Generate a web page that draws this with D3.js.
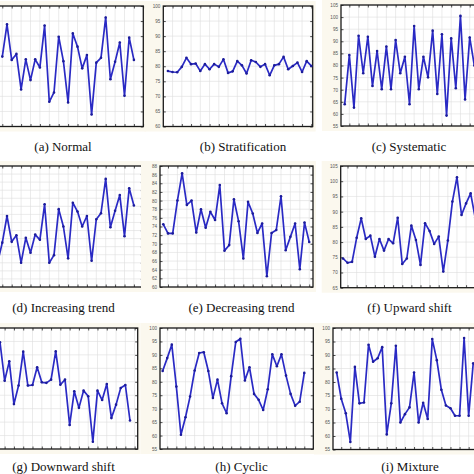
<!DOCTYPE html>
<html>
<head>
<meta charset="utf-8">
<script src="https://cdn.jsdelivr.net/npm/d3@7"></script>
<style>
  html, body { margin: 0; padding: 0; background: #fff; }
  svg { display: block; }
</style>
</head>
<body>
<div id="chart"></div>
<script>
// values, one array per panel
const normalValues = [83.2, 93.9, 82.1, 84.1, 72.3, 82.3, 75.4, 82.3, 79.6, 93.5, 68.2, 71.3, 89.8, 81.7, 68.0,
    90.9, 86.5, 79.3, 83.7, 64.0, 81.2, 82.8, 96.2, 75.7, 81.5, 87.9, 70.2, 89.5, 82.1];
const stratificationValues = [78.4, 78.1, 78.0, 79.8, 82.8, 80.7, 80.9, 78.4, 80.7, 79.0, 80.7, 79.8, 82.3, 77.8,
    78.3, 81.7, 80.3, 77.6, 82.0, 81.4, 79.8, 80.7, 77.0, 80.3, 80.7, 83.1, 79.0, 80.1, 81.2, 78.1, 81.7, 80.1];
const systematicValues = [64.0, 84.3, 62.6, 92.3, 76.8, 91.9, 71.5, 86.0, 70.2, 87.8, 70.2, 90.5, 76.8, 83.6,
    64.0, 96.3, 70.2, 83.6, 75.1, 94.4, 68.2, 92.9, 59.3, 91.2, 70.6, 100.5, 66.0, 91.6, 80.0];
const increasingValues = [66.1, 71.0, 77.6, 71.2, 72.8, 66.0, 72.2, 68.5, 73.0, 71.7, 80.5, 66.0, 67.9, 79.3, 75.0,
    67.1, 80.9, 78.7, 75.0, 77.6, 66.5, 76.8, 78.3, 86.8, 74.8, 78.9, 82.8, 72.6, 84.5, 80.2];
const decreasingValues = [74.5, 72.4, 72.4, 80.0, 86.3, 79.0, 80.0, 72.6, 78.0, 73.7, 77.4, 75.5, 83.6, 68.4, 69.7,
    80.3, 75.2, 66.6, 79.7, 77.0, 72.5, 74.7, 62.5, 72.5, 73.2, 81.0, 68.5, 71.6, 74.7, 64.1, 74.9, 70.4];
const upwardValues = [74.6, 73.2, 73.5, 81.4, 87.8, 81.0, 82.1, 75.2, 81.0, 77.2, 81.0, 79.6, 88.0, 72.8, 74.6,
    85.4, 80.7, 72.5, 86.2, 83.6, 79.4, 81.8, 70.3, 80.5, 93.3, 101.3, 88.9, 92.7, 96.0, 88.0];
const downwardValues = [94.7, 80.4, 87.6, 71.7, 78.6, 91.2, 78.6, 78.8, 85.4, 79.8, 79.6, 80.8, 91.3, 78.9, 80.8,
    63.9, 76.5, 70.3, 76.7, 74.6, 57.7, 76.7, 73.2, 79.2, 66.5, 71.5, 77.7, 78.8, 65.6];
const cyclicValues = [84.0, 88.8, 93.8, 78.2, 60.3, 66.8, 74.5, 84.2, 90.7, 91.0, 84.0, 74.0, 80.8, 72.0, 68.3,
    82.1, 94.8, 96.0, 80.5, 85.4, 75.5, 73.3, 69.5, 77.2, 90.2, 85.8, 90.2, 82.3, 75.5, 71.1, 72.6, 83.3];
const mixtureValues = [83.5, 73.8, 68.4, 57.8, 85.6, 72.1, 72.4, 93.8, 87.5, 88.8, 92.9, 60.6, 72.1, 93.4, 65.0,
    68.1, 70.6, 83.5, 65.0, 72.3, 66.3, 95.9, 88.1, 77.1, 71.3, 70.3, 67.5, 67.5, 96.3, 67.5, 86.9];

const ticks60to100 = [60, 65, 70, 75, 80, 85, 90, 95, 100];
const ticks55to105 = [55, 60, 65, 70, 75, 80, 85, 90, 95, 100, 105];
const ticks60to90 = [60, 62, 64, 66, 68, 70, 72, 74, 76, 78, 80, 82, 84, 86, 88, 90];
const ticks60to88 = [60, 62, 64, 66, 68, 70, 72, 74, 76, 78, 80, 82, 84, 86, 88];
const ticks65to105 = [65, 70, 75, 80, 85, 90, 95, 100, 105];
const ticks55to100 = [55, 60, 65, 70, 75, 80, 85, 90, 95, 100];

const captions = ['(a) Normal', '(b) Stratification', '(c) Systematic',
    '(d) Increasing trend', '(e) Decreasing trend', '(f) Upward shift',
    '(g) Downward shift', '(h) Cyclic', '(i) Mixture'];

// layout: box = [left, right, top, bottom]; left column is cropped in the picture, so no labels there
const panels = [
    { values: normalValues, start: 4, box: [-16.5, 143.3, 6, 126.5], xDomain: [0, 34], yDomain: [60, 100], yTicks: ticks60to100, labels: false, cap: [63, 151] },
    { values: stratificationValues, start: 1, box: [163.3, 312.7, 6, 126.5], xDomain: [0, 32.3], yDomain: [60, 100], yTicks: ticks60to100, labels: true, cap: [243, 151] },
    { values: systematicValues, start: 1, box: [341, 491, 5, 126], xDomain: [0.2, 32.6], yDomain: [55, 105], yTicks: ticks55to105, labels: true, cap: [409, 151] },
    { values: increasingValues, start: 3, box: [-16.5, 143.3, 166, 287], xDomain: [0, 34], yDomain: [60, 90], yTicks: ticks60to90, labels: false, cap: [63.5, 312] },
    { values: decreasingValues, start: 1, box: [160, 313, 166, 287], xDomain: [0.3, 32.8], yDomain: [60, 88], yTicks: ticks60to88, labels: true, cap: [241.5, 312] },
    { values: upwardValues, start: 1, box: [340.7, 490.7, 166, 287.7], xDomain: [0.5, 33.4], yDomain: [65, 105], yTicks: ticks65to105, labels: true, cap: [409.5, 312] },
    { values: downwardValues, start: 1, box: [-12.3, 137.7, 328, 449], xDomain: [-1.65, 30.66], yDomain: [55, 100], yTicks: ticks55to100, labels: false, cap: [63.5, 471] },
    { values: cyclicValues, start: 1, box: [160, 313.3, 328, 449], xDomain: [0.42, 33.97], yDomain: [55, 100], yTicks: ticks55to100, labels: true, cap: [241.5, 471] },
    { values: mixtureValues, start: 1, box: [333, 483, 328, 449.5], xDomain: [0.19, 33.15], yDomain: [55, 100], yTicks: ticks55to100, labels: true, cap: [410, 471] }
];

const width = 474, height = 474;
const lineColor = '#2a2ac4';

const svg = d3.select('#chart').append('svg')
    .attr('width', width)
    .attr('height', height);

panels.forEach((p, k) => {
    const [x0, x1, y0, y1] = p.box;
    const x = d3.scaleLinear().domain(p.xDomain).range([x0, x1]);
    const y = d3.scaleLinear().domain(p.yDomain).range([y1, y0]);
    const g = svg.append('g');

    // cream graph background and white plot area
    g.append('rect')
        .attr('x', x0 - 19).attr('y', y0 - 5)
        .attr('width', x1 - x0 + 22).attr('height', y1 - y0 + 10)
        .attr('fill', '#fbf8ee');
    g.append('rect')
        .attr('x', x0).attr('y', y0)
        .attr('width', x1 - x0).attr('height', y1 - y0)
        .attr('fill', '#fff');

    const xGrid = d3.range(Math.ceil(p.xDomain[0]), p.xDomain[1] + 0.001).filter(v => v % 2 === 0 && v > p.xDomain[0]);

    g.append('g').selectAll('line.h')
        .data(p.yTicks)
        .join('line')
        .attr('x1', x0).attr('x2', x1)
        .attr('y1', d => y(d)).attr('y2', d => y(d))
        .attr('stroke', '#dedede').attr('stroke-width', 0.6);
    g.append('g').selectAll('line.v')
        .data(xGrid)
        .join('line')
        .attr('x1', d => x(d)).attr('x2', d => x(d))
        .attr('y1', y0).attr('y2', y1)
        .attr('stroke', '#dedede').attr('stroke-width', 0.6);

    // axes with inward ticks
    const leftAxis = d3.axisLeft(y).tickValues(p.yTicks).tickSizeInner(-2.5).tickSizeOuter(0).tickPadding(3);
    if (!p.labels) leftAxis.tickFormat('');
    const left = g.append('g').attr('transform', `translate(${x0},0)`).call(leftAxis);
    const right = g.append('g').attr('transform', `translate(${x1},0)`)
        .call(d3.axisRight(y).tickValues(p.yTicks).tickSizeInner(-2.5).tickSizeOuter(0).tickFormat(''));
    const bottom = g.append('g').attr('transform', `translate(0,${y1})`)
        .call(d3.axisBottom(x).tickValues(xGrid).tickSizeInner(-2.5).tickSizeOuter(0).tickFormat(''));
    const top = g.append('g').attr('transform', `translate(0,${y0})`)
        .call(d3.axisTop(x).tickValues(xGrid).tickSizeInner(-2.5).tickSizeOuter(0).tickFormat(''));
    [left, right, bottom, top].forEach(a => {
        a.select('.domain').remove();
        a.selectAll('.tick line').attr('stroke', '#222').attr('stroke-width', 0.8);
    });
    if (p.labels) {
        left.selectAll('.tick text')
            .attr('font-family', 'Liberation Sans, Arial, sans-serif')
            .attr('font-size', 4.6)
            .attr('fill', '#555');
    } else {
        left.selectAll('.tick text').remove();
    }

    g.append('rect')
        .attr('x', x0).attr('y', y0)
        .attr('width', x1 - x0).attr('height', y1 - y0)
        .attr('fill', 'none')
        .attr('stroke', '#1a1a1a')
        .attr('stroke-width', 1.3);

    const line = d3.line()
        .x((d, i) => x(i + p.start))
        .y(d => y(d));
    g.append('path')
        .datum(p.values)
        .attr('d', line)
        .attr('fill', 'none')
        .attr('stroke', lineColor)
        .attr('stroke-width', 1.7)
        .attr('stroke-linejoin', 'round');
    g.append('g').selectAll('circle')
        .data(p.values)
        .join('circle')
        .attr('cx', (d, i) => x(i + p.start))
        .attr('cy', d => y(d))
        .attr('r', 1.3)
        .attr('fill', '#1c1c9a');

    svg.append('text')
        .attr('x', p.cap[0]).attr('y', p.cap[1])
        .attr('text-anchor', 'middle')
        .attr('font-family', 'Liberation Serif, Times New Roman, serif')
        .attr('font-size', 13)
        .attr('fill', '#111')
        .text(captions[k]);
});
</script>
</body>
</html>
